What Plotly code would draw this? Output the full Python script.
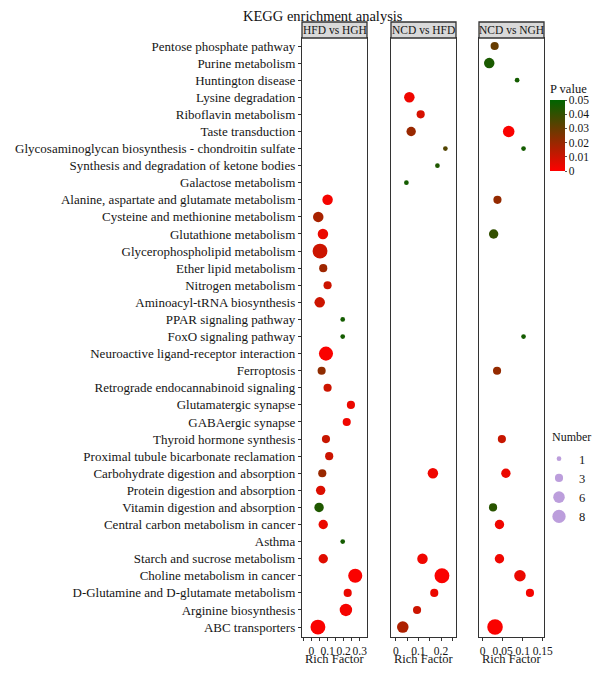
import math
import plotly.graph_objects as go

# ---------------- data ----------------
categories = [
    "Pentose phosphate pathway", "Purine metabolism", "Huntington disease",
    "Lysine degradation", "Riboflavin metabolism", "Taste transduction",
    "Glycosaminoglycan biosynthesis - chondroitin sulfate",
    "Synthesis and degradation of ketone bodies", "Galactose metabolism",
    "Alanine, aspartate and glutamate metabolism", "Cysteine and methionine metabolism",
    "Glutathione metabolism", "Glycerophospholipid metabolism", "Ether lipid metabolism",
    "Nitrogen metabolism", "Aminoacyl-tRNA biosynthesis", "PPAR signaling pathway",
    "FoxO signaling pathway", "Neuroactive ligand-receptor interaction", "Ferroptosis",
    "Retrograde endocannabinoid signaling", "Glutamatergic synapse", "GABAergic synapse",
    "Thyroid hormone synthesis", "Proximal tubule bicarbonate reclamation",
    "Carbohydrate digestion and absorption", "Protein digestion and absorption",
    "Vitamin digestion and absorption", "Central carbon metabolism in cancer", "Asthma",
    "Starch and sucrose metabolism", "Choline metabolism in cancer",
    "D-Glutamine and D-glutamate metabolism", "Arginine biosynthesis", "ABC transporters",
]

panel_titles = ["HFD vs HGH", "NCD vs HFD", "NCD vs NGH"]

# HFD vs HGH
p1_terms = [
    "Alanine, aspartate and glutamate metabolism", "Cysteine and methionine metabolism",
    "Glutathione metabolism", "Glycerophospholipid metabolism", "Ether lipid metabolism",
    "Nitrogen metabolism", "Aminoacyl-tRNA biosynthesis", "PPAR signaling pathway",
    "FoxO signaling pathway", "Neuroactive ligand-receptor interaction", "Ferroptosis",
    "Retrograde endocannabinoid signaling", "Glutamatergic synapse", "GABAergic synapse",
    "Thyroid hormone synthesis", "Proximal tubule bicarbonate reclamation",
    "Carbohydrate digestion and absorption", "Protein digestion and absorption",
    "Vitamin digestion and absorption", "Central carbon metabolism in cancer", "Asthma",
    "Starch and sucrose metabolism", "Choline metabolism in cancer",
    "D-Glutamine and D-glutamate metabolism", "Arginine biosynthesis", "ABC transporters",
]
p1_rich = [0.100, 0.042, 0.071, 0.053, 0.073, 0.100, 0.051, 0.194, 0.194, 0.090, 0.063,
           0.100, 0.245, 0.219, 0.090, 0.110, 0.067, 0.057, 0.047, 0.073, 0.194, 0.073,
           0.272, 0.225, 0.214, 0.040]
p1_count = [5, 5, 5, 10, 3, 3, 5, 1, 1, 9, 3, 3, 3, 3, 3, 3, 3, 4, 4, 4, 1, 4, 9, 3, 7, 10]
p1_p = [0.002, 0.017, 0.004, 0.010, 0.019, 0.010, 0.010, 0.046, 0.046, 0.001, 0.022,
        0.010, 0.004, 0.003, 0.011, 0.010, 0.020, 0.007, 0.044, 0.004, 0.046, 0.006,
        0.001, 0.004, 0.002, 0.001]

# NCD vs HFD
p2_terms = [
    "Lysine degradation", "Riboflavin metabolism", "Taste transduction",
    "Glycosaminoglycan biosynthesis - chondroitin sulfate",
    "Synthesis and degradation of ketone bodies", "Galactose metabolism",
    "Carbohydrate digestion and absorption", "Starch and sucrose metabolism",
    "Choline metabolism in cancer", "D-Glutamine and D-glutamate metabolism",
    "Arginine biosynthesis", "ABC transporters",
]
p2_rich = [0.060, 0.110, 0.068, 0.219, 0.184, 0.047, 0.164, 0.118, 0.204, 0.170, 0.094, 0.031]
p2_count = [5, 3, 4, 1, 1, 1, 5, 5, 10, 3, 3, 6]
p2_p = [0.003, 0.008, 0.020, 0.034, 0.044, 0.046, 0.003, 0.003, 0.001, 0.004, 0.010, 0.016]

# NCD vs NGH
p3_terms = [
    "Pentose phosphate pathway", "Purine metabolism", "Huntington disease",
    "Taste transduction", "Glycosaminoglycan biosynthesis - chondroitin sulfate",
    "Alanine, aspartate and glutamate metabolism", "Glutathione metabolism",
    "FoxO signaling pathway", "Ferroptosis", "Thyroid hormone synthesis",
    "Carbohydrate digestion and absorption", "Vitamin digestion and absorption",
    "Central carbon metabolism in cancer", "Starch and sucrose metabolism",
    "Choline metabolism in cancer", "D-Glutamine and D-glutamate metabolism",
    "ABC transporters",
]
p3_rich = [0.030, 0.0165, 0.086, 0.065, 0.102, 0.037, 0.0275, 0.102, 0.036, 0.048, 0.058,
           0.026, 0.042, 0.042, 0.093, 0.118, 0.031]
p3_count = [3, 5, 1, 6, 1, 3, 4, 1, 3, 3, 4, 3, 4, 4, 6, 3, 11]
p3_p = [0.030, 0.045, 0.046, 0.001, 0.046, 0.021, 0.040, 0.046, 0.021, 0.011, 0.004, 0.042,
        0.003, 0.003, 0.004, 0.002, 0.001]

legend_counts = [1, 3, 6, 8]

x_ticks = [
    ([0, 0.1, 0.2, 0.3], ["0", "0.1", "0.2", "0.3"]),
    ([0, 0.1, 0.2], ["0", "0.1", "0.2"]),
    ([0, 0.05, 0.1, 0.15], ["0", "0.05", "0.1", "0.15"]),
]
x_ranges = [[-0.059, 0.345], [-0.021, 0.266], [-0.009, 0.153]]
minor_dticks = [0.05, 0.05, None]

# ---------------- style ----------------
OFF = 8                    # default page body margin in the browser
W, H = 600 - 2 * OFF, 676 - 2 * OFF   # avoid scrollbars
L = 302 - OFF
T = 38 - OFF
PLOT_RIGHT_SCREEN = 544
PLOT_BOTTOM_SCREEN = 637
R = W - (PLOT_RIGHT_SCREEN - OFF)
B = H - (PLOT_BOTTOM_SCREEN - OFF)
PW = W - L - R
PH = H - T - B
FONT = "Liberation Serif"
LINE = "#333333"
TXT = "#151515"
DIAM_K = 4.7           # diameter (px) per sqrt(count)
SIZEREF = 2.0 / DIAM_K ** 2
ROW = 17.09            # px per category row


def px_x(x):
    """screen x pixel -> paper x"""
    return (x - OFF - L) / PW


def px_y(y):
    """screen y pixel -> paper y"""
    return 1 - (y - OFF - T) / PH


panel_px = [(302, 367), (391, 456), (479, 544)]
domains = [[px_x(a), px_x(b)] for a, b in panel_px]

top_pad = 8 / ROW
y_range = [-top_pad + PH / ROW, -top_pad]

fig = go.Figure()

panels = [(p1_terms, p1_rich, p1_count, p1_p),
          (p2_terms, p2_rich, p2_count, p2_p),
          (p3_terms, p3_rich, p3_count, p3_p)]

for i, (terms, rich, cnt, pv) in enumerate(panels):
    sfx = "" if i == 0 else str(i + 1)
    fig.add_trace(go.Scatter(
        x=rich, y=terms, mode="markers", showlegend=False,
        xaxis="x" + sfx, yaxis="y" + sfx,
        marker=dict(size=cnt, sizemode="area", sizeref=SIZEREF, color=pv,
                    coloraxis="coloraxis", line=dict(width=0), opacity=1),
        hovertemplate="%{y}<br>Rich Factor %{x}<extra></extra>",
    ))

for n in legend_counts:
    fig.add_trace(go.Scatter(
        x=[None], y=[None], mode="markers", name=str(n), showlegend=True,
        xaxis="x3", yaxis="y3",
        marker=dict(size=DIAM_K * math.sqrt(n), color="#BC9EDC", line=dict(width=0)),
    ))

layout = dict(
    width=W, height=H,
    margin=dict(l=L, r=R, t=T, b=B, autoexpand=False),
    paper_bgcolor="white", plot_bgcolor="white",
    font=dict(family=FONT, size=12, color=TXT),
    coloraxis=dict(
        cmin=0, cmax=0.05,
        colorscale=[[0, "#FF0000"], [1, "#006400"]],
        colorbar=dict(
            title=dict(text="P value", side="top", font=dict(family=FONT, size=12.5, color=TXT)),
            x=px_x(550), xanchor="left", xpad=0,
            y=px_y(126), yanchor="middle", ypad=0,
            len=90, lenmode="pixels", thickness=15,
            tickvals=[0, 0.01, 0.02, 0.03, 0.04, 0.05],
            ticktext=["0", "0.01", "0.02", "0.03", "0.04", "0.05"],
            ticks="outside", ticklen=2, tickcolor="#555",
            tickfont=dict(family=FONT, size=11.5, color=TXT),
            outlinewidth=0,
        ),
    ),
    legend=dict(
        x=px_x(539), xanchor="left",
        y=px_y(444), yanchor="top",
        bgcolor="rgba(0,0,0,0)", font=dict(family=FONT, size=12.5, color=TXT),
        itemsizing="trace", tracegroupgap=0, itemwidth=30,
    ),
)

for i in range(3):
    sfx = "" if i == 0 else str(i + 1)
    tv, tt = x_ticks[i]
    xa = dict(
        domain=domains[i], anchor="y" + sfx, range=x_ranges[i],
        tickvals=tv, ticktext=tt, tickangle=0,
        ticks="outside", ticklen=3, tickcolor=LINE,
        showline=True, mirror=True, linecolor=LINE, linewidth=1.3,
        showgrid=False, zeroline=False,
        tickfont=dict(family=FONT, size=11.5, color=TXT),
    )
    if minor_dticks[i]:
        xa["minor"] = dict(dtick=minor_dticks[i], tick0=0, ticks="outside",
                           ticklen=3, tickcolor=LINE)
    layout["xaxis" + sfx] = xa
    ya = dict(
        anchor="x" + sfx, type="category", categoryorder="array",
        categoryarray=categories, range=y_range,
        showline=True, mirror=True, linecolor=LINE, linewidth=1.3,
        showgrid=False, zeroline=False,
    )
    if i == 0:
        ya.update(ticks="outside", ticklen=3, tickcolor=LINE,
                  tickfont=dict(family=FONT, size=13, color=TXT))
    else:
        ya.update(matches="y", showticklabels=False, ticks="")
    layout["yaxis" + sfx] = ya

strip_h = 16 / PH
shapes, annotations = [], []
for i, name in enumerate(panel_titles):
    sfx = "" if i == 0 else str(i + 1)
    shapes.append(dict(type="rect", xref="x" + sfx + " domain", yref="paper",
                       x0=0, x1=1, y0=1, y1=1 + strip_h,
                       fillcolor="#D9D9D9", line=dict(color=LINE, width=1.3)))
    annotations.append(dict(text=name, xref="x" + sfx + " domain", yref="paper",
                            x=0.5, y=1 + strip_h / 2, showarrow=False,
                            xanchor="center", yanchor="middle",
                            font=dict(family=FONT, size=11.5, color=TXT)))
    annotations.append(dict(text="Rich Factor", xref="x" + sfx + " domain", yref="paper",
                            x=0.5, y=px_y(668), showarrow=False,
                            xanchor="center", yanchor="bottom",
                            font=dict(family=FONT, size=12.5, color=TXT)))
annotations.append(dict(text="KEGG enrichment analysis", xref="paper", yref="paper",
                        x=px_x(323), y=px_y(16.5), showarrow=False,
                        xanchor="center", yanchor="middle",
                        font=dict(family=FONT, size=14.5, color="#111")))
annotations.append(dict(text="Number", xref="paper", yref="paper",
                        x=px_x(550), y=px_y(437), showarrow=False,
                        xanchor="left", yanchor="middle",
                        font=dict(family=FONT, size=12, color=TXT)))
layout["shapes"] = shapes
layout["annotations"] = annotations

fig.update_layout(**layout)
fig.write_html("out.html")
